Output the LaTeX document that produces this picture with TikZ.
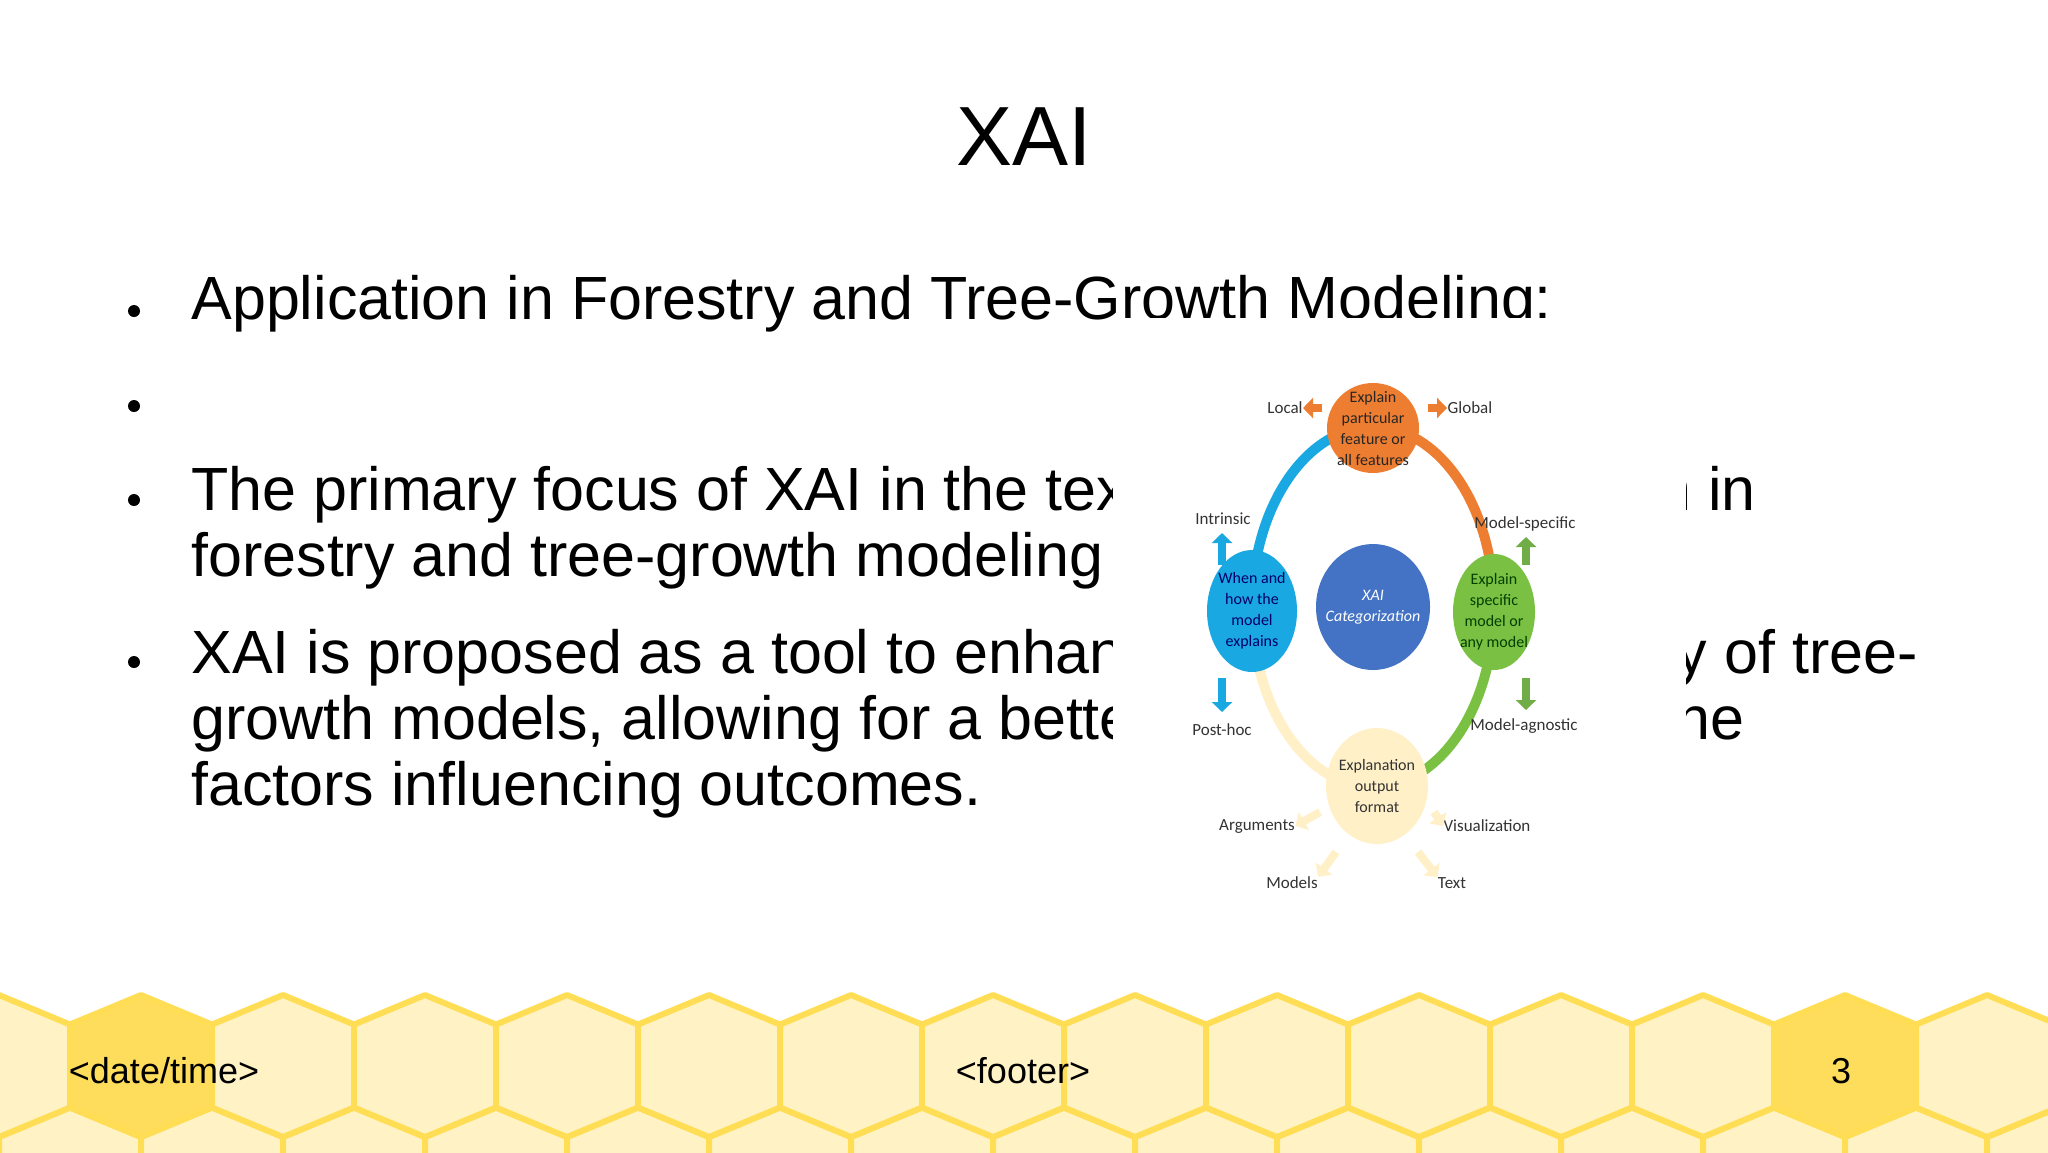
\documentclass[tikz,border=0pt]{standalone}
\usepackage{fontspec}
\setmainfont{Liberation Sans}
\newfontfamily\calfont{Carlito}
\usetikzlibrary{arrows.meta}
\definecolor{hexfill}{HTML}{FFF3C6}
\definecolor{hexdark}{HTML}{FFDD5C}
\definecolor{hexline}{HTML}{FFDD55}
\definecolor{xorange}{HTML}{ED7D31}
\definecolor{xblue}{HTML}{1AA8E2}
\definecolor{xdblue}{HTML}{4472C4}
\definecolor{xgreen}{HTML}{7AC143}
\definecolor{xcream}{HTML}{FFF0C8}
\definecolor{xarrg}{HTML}{70AD47}
\tikzset{
 hexa/.style={fill=hexfill,draw=hexline,line width=3pt,line join=round},
 body/.style={anchor=base west,inner sep=0pt,font=\fontsize{30.5}{32}\selectfont},
 lab/.style={inner sep=0pt,font=\calfont\fontsize{8.5}{10}\selectfont,text=black!80},
 circtxt/.style={inner sep=0pt,align=center,font=\calfont\fontsize{8}{10.5}\selectfont},
 fat/.style={line width=4pt,-{Triangle[width=10pt,length=5pt]}},
}
\begin{document}
\begin{tikzpicture}[x=0.5pt,y=-0.5pt]
\useasboundingbox (0,0) rectangle (2048,1152);
\clip (0,0) rectangle (2048,1152);
\fill[white] (0,0) rectangle (2048,1152);
% footer honeycomb
\foreach \k in {-1,...,14}{
  \pgfmathsetmacro\cxb{212+142*\k}
  \draw[hexa] (\cxb,1178.5) ++(0,-71) -- ++(71,29.5) -- ++(0,83) -- ++(-71,29.5) -- ++(-71,-29.5) -- ++(0,-83) -- cycle;
}
\foreach \k in {-1,...,14}{
  \pgfmathsetmacro\cxa{141+142*\k}
  \ifnum\k=0 \def\hf{hexdark}\else\ifnum\k=12 \def\hf{hexdark}\else\def\hf{hexfill}\fi\fi
  \draw[hexa,fill=\hf] (\cxa,1066) ++(0,-71) -- ++(71,29.5) -- ++(0,83) -- ++(-71,29.5) -- ++(-71,-29.5) -- ++(0,-83) -- cycle;
}
\node[font=\fontsize{18}{20}\selectfont] (date) at (164,1071) {<date/time>};
\node[font=\fontsize{18}{20}\selectfont] (foot) at (1023,1071) {<footer>};
\node[font=\fontsize{18}{20}\selectfont] (num) at (1841,1071) {3};
% title
\node[font=\fontsize{42}{46}\selectfont] (title) at (1024,137) {XAI};
% bullets
\foreach \yy in {311,406,500,662}{\fill (134,\yy) circle (6);}
\node[body] (l1) at (191,319) {Application in Forestry and Tree-Growth Modeling:};
\node[body] (l3) at (191,510) {The primary focus of XAI in the text};
\node[body] (l4) at (191,576) {forestry and tree-growth modeling};
\node[body] (l5) at (191,673) {XAI is proposed as a tool to enhance};
\node[body] (l6) at (191,739) {growth models, allowing for a better};
\node[body] (l7) at (191,805) {factors influencing outcomes.};
\node[body,anchor=base east] (r3) at (1756,510) {n in};
\node[body,anchor=base east] (r5) at (1918,673) {y of tree-};
\node[body,anchor=base east] (r6) at (1745,739) {he};
% picture
\fill[white] (1113,318) rectangle (1686,914);
\def\ecx{1373}\def\ecy{607}
\draw[xblue,line width=5pt] (\ecx,\ecy) ++(180:121 and 180) arc[start angle=180,end angle=270,x radius=121,y radius=180];
\draw[xorange,line width=5pt] (\ecx,\ecy) ++(270:121 and 180) arc[start angle=270,end angle=360,x radius=121,y radius=180];
\draw[xgreen,line width=5pt] (\ecx,\ecy) ++(0:121 and 180) arc[start angle=0,end angle=90,x radius=121,y radius=180];
\draw[xcream,line width=5pt] (\ecx,\ecy) ++(90:121 and 180) arc[start angle=90,end angle=180,x radius=121,y radius=180];
\fill[xorange] (1373,428) ellipse (46 and 45);
\fill[xblue] (1252,611) ellipse (45 and 61);
\fill[xdblue] (1373,607) ellipse (57 and 63);
\fill[xgreen] (1494,612) ellipse (41 and 58);
\fill[xcream] (1377,786) ellipse (51 and 58);
\node[circtxt,text=black!85] (c1) at (1373,428) {Explain\\particular\\feature or\\all features};
\node[circtxt,text=blue!40!black] (c2) at (1252,611) {When and\\how the\\model\\explains};
\node[circtxt,text=white,font=\calfont\itshape\fontsize{8}{10.5}\selectfont] (c3) at (1373,607) {XAI\\Categorization};
\node[circtxt,text=green!25!black] (c4) at (1494,612) {Explain\\specific\\model or\\any model};
\node[circtxt,text=black!80] (c5) at (1377,786) {Explanation\\output\\format};
% labels
\node[lab] (local) at (1285,408) {Local};
\node[lab] (global) at (1470,408) {Global};
\node[lab] (intr) at (1223,519) {Intrinsic};
\node[lab] (post) at (1222,730) {Post-hoc};
\node[lab] (mspec) at (1525,524) {Model-specific};
\node[lab] (magn) at (1524,726) {Model-agnostic};
\node[lab] (args) at (1257,826) {Arguments};
\node[lab] (vis) at (1487,826) {Visualization};
\node[lab] (mods) at (1292,883) {Models};
\node[lab] (txt) at (1452,883) {Text};
% arrows
\coordinate (a1) at (1322,408);\coordinate (a2) at (1428,408);
\coordinate (a1e) at (1303,408);\coordinate (a2e) at (1447,408);
\draw[fat,xorange] (a1) -- (a1e);
\draw[fat,xorange] (a2) -- (a2e);
\coordinate (b1) at (1222,565);\coordinate (b2) at (1222,678);
\coordinate (b1e) at (1222,533);\coordinate (b2e) at (1222,712);
\draw[fat,xblue] (b1) -- (b1e);
\draw[fat,xblue] (b2) -- (b2e);
\coordinate (g1) at (1526,565);\coordinate (g2) at (1526,678);
\coordinate (g1e) at (1526,537);\coordinate (g2e) at (1526,710);
\draw[fat,xarrg] (g1) -- (g1e);
\draw[fat,xarrg] (g2) -- (g2e);
\coordinate (k1) at (1320,812);\coordinate (k2) at (1434,812);
\coordinate (k3) at (1336,852);\coordinate (k4) at (1418,852);
\draw[fat,xcream] (k1) -- (args.east);
\draw[fat,xcream] (k2) -- (vis.west);
\draw[fat,xcream] (k3) -- (mods.north east);
\draw[fat,xcream] (k4) -- (txt.north west);
\end{tikzpicture}
\end{document}
